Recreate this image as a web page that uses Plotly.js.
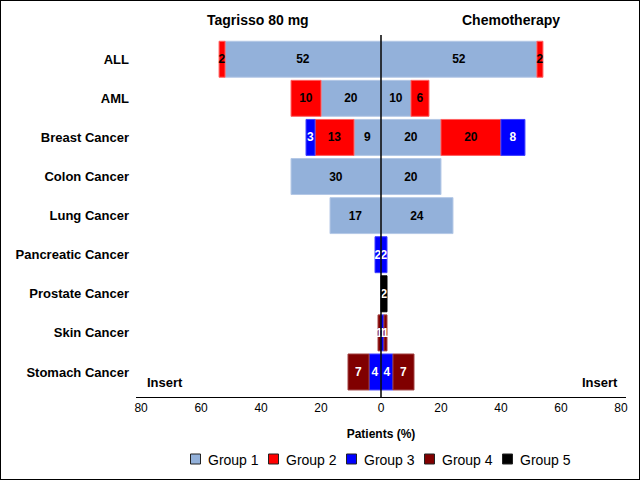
<!DOCTYPE html>
<html>
<head>
<meta charset="utf-8">
<script src="https://cdn.plot.ly/plotly-3.0.1.min.js"></script>
<style>
    body { margin: 0; background: #fff; }
    #wrap { position: relative; width: 640px; height: 480px; }
    #chart { width: 640px; height: 480px; }
    #frame { position: absolute; left: 0; top: 0; width: 638px; height: 478px; border: 1px solid #000; pointer-events: none; }
</style>
</head>
<body>
<div id="wrap">
    <div id="chart"></div>
    <div id="frame"></div>
</div>
<script>
// cancer types, top to bottom
let categories = ['ALL', 'AML', 'Breast Cancer', 'Colon Cancer', 'Lung Cancer',
    'Pancreatic Cancer', 'Prostate Cancer', 'Skin Cancer', 'Stomach Cancer'];

let groupNames = ['Group 1', 'Group 2', 'Group 3', 'Group 4', 'Group 5'];

// Tagrisso 80 mg (left side), % patients per group
let tagrisso1 = [52, 20, 9, 30, 17, 0, 0, 0, 0];
let tagrisso2 = [2, 10, 13, 0, 0, 0, 0, 0, 0];
let tagrisso3 = [0, 0, 3, 0, 0, 2, 0, 0, 4];
let tagrisso4 = [0, 0, 0, 0, 0, 0, 0, 1, 7];
let tagrisso5 = [0, 0, 0, 0, 0, 0, 0, 0, 0];

// Chemotherapy (right side)
let chemo1 = [52, 10, 20, 20, 24, 0, 0, 0, 0];
let chemo2 = [2, 6, 20, 0, 0, 0, 0, 0, 0];
let chemo3 = [0, 0, 8, 0, 0, 2, 0, 1, 4];
let chemo4 = [0, 0, 0, 0, 0, 0, 0, 1, 7];
let chemo5 = [0, 0, 0, 0, 0, 0, 2, 0, 0];

let tickValues = [-80, -60, -40, -20, 0, 20, 40, 60, 80];
let tickLabels = ['80', '60', '40', '20', '0', '20', '40', '60', '80'];

let colors = ['#93B1DA', '#FF0000', '#0000FF', '#800000', '#000000'];
let textColors = ['#000000', '#000000', '#FFFFFF', '#FFFFFF', '#FFFFFF'];
let lineColors = ['#B4C8E6', '#FF6060', '#4040FF', '#A04040', '#000000'];

let leftSets = [tagrisso1, tagrisso2, tagrisso3, tagrisso4, tagrisso5];
let rightSets = [chemo1, chemo2, chemo3, chemo4, chemo5];

let font = 'Liberation Sans, Arial, sans-serif';

// plot box in pixels, used to place the hand-made legend
let W = 640, H = 480;
let M = { l: 136, r: 14, t: 35, b: 83 };
let plotW = W - M.l - M.r;
let plotH = H - M.t - M.b;
let px = x => (x - M.l) / plotW;
let py = y => (H - M.b - y) / plotH;

function makeTrace(values, g, side) {
    return {
        type: 'bar',
        orientation: 'h',
        y: categories,
        // zero entries are left out so no empty outline is drawn
        x: values.map(v => v > 0 ? (side === 'left' ? -v : v) : null),
        text: values.map(v => v > 0 ? String(v) : ''),
        textposition: 'inside',
        insidetextanchor: 'middle',
        constraintext: 'none',
        textangle: 0,
        textfont: { family: font, size: 12, color: textColors[g], weight: 'bold' },
        marker: { color: colors[g], line: { color: lineColors[g], width: 1 } },
        name: groupNames[g],
        showlegend: false,
        hoverinfo: 'skip'
    };
}

let data = [];
leftSets.forEach((vals, g) => data.push(makeTrace(vals, g, 'left')));
rightSets.forEach((vals, g) => data.push(makeTrace(vals, g, 'right')));

let shapes = [{
    type: 'line', xref: 'x', yref: 'paper',
    x0: 0, x1: 0, y0: 0, y1: 1,
    line: { color: '#000', width: 1.5 },
    layer: 'above'
}];

let annotations = [
    { text: 'Tagrisso 80 mg', xref: 'x', yref: 'paper', x: -41, y: 1.041, yanchor: 'middle', showarrow: false, font: { family: font, size: 14, weight: 'bold' } },
    { text: 'Chemotherapy', xref: 'x', yref: 'paper', x: 43.3, y: 1.041, yanchor: 'middle', showarrow: false, font: { family: font, size: 14, weight: 'bold' } },
    { text: 'Insert', xref: 'paper', yref: 'paper', x: 0.018, y: 0.039, xanchor: 'left', yanchor: 'middle', showarrow: false, font: { family: font, size: 13, weight: 'bold' } },
    { text: 'Insert', xref: 'paper', yref: 'paper', x: 0.988, y: 0.039, xanchor: 'right', yanchor: 'middle', showarrow: false, font: { family: font, size: 13, weight: 'bold' } }
];

// legend: small squares with the group name, 78px apart
groupNames.forEach((name, g) => {
    let left = 190.5 + 78 * g;
    shapes.push({
        type: 'rect', xref: 'paper', yref: 'paper',
        x0: px(left), x1: px(left + 10), y0: py(464), y1: py(454),
        fillcolor: colors[g], line: { color: '#222', width: 1 }
    });
    annotations.push({
        text: name, xref: 'paper', yref: 'paper',
        x: px(left + 15), y: py(460), xanchor: 'left', yanchor: 'middle',
        showarrow: false, font: { family: font, size: 14 }
    });
});

let layout = {
    width: W,
    height: H,
    margin: M,
    barmode: 'relative',
    bargap: 0.08,
    showlegend: false,
    paper_bgcolor: '#fff',
    plot_bgcolor: '#fff',
    font: { family: font, size: 12, color: '#000' },
    xaxis: {
        range: [-81.7, 81.7],
        tickvals: tickValues,
        ticktext: tickLabels,
        showgrid: false,
        zeroline: false,
        showline: true,
        linecolor: '#000',
        linewidth: 1,
        ticks: '',
        tickfont: { family: font, size: 12 },
        title: { text: 'Patients (%)', font: { family: font, size: 12, weight: 'bold' }, standoff: 15 }
    },
    yaxis: {
        type: 'category',
        range: [8.64, -0.62],
        showgrid: false,
        zeroline: false,
        showline: false,
        ticks: '',
        ticklabelstandoff: 6,
        tickfont: { family: font, size: 13, weight: 'bold' }
    },
    shapes: shapes,
    annotations: annotations
};

Plotly.newPlot('chart', data, layout, { displayModeBar: false, staticPlot: true });
</script>
</body>
</html>
